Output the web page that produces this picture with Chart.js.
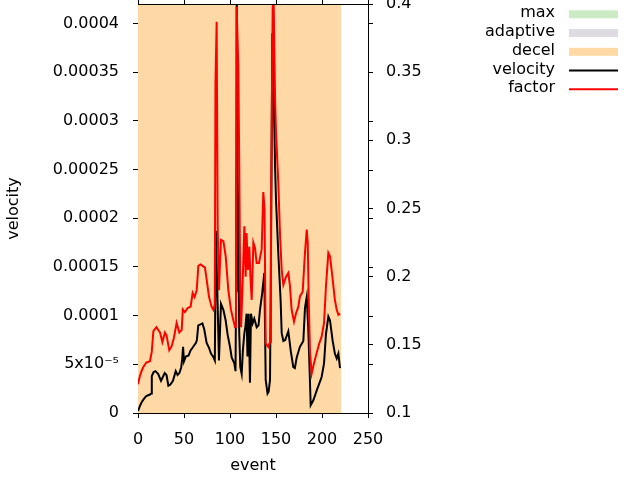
<!DOCTYPE html>
<html>
<head>
<meta charset="utf-8">
<script src="https://cdn.jsdelivr.net/npm/chart.js@4/dist/chart.umd.min.js"></script>
<style>
  html, body { margin: 0; padding: 0; background: #fff; }
  #wrap { width: 640px; height: 480px; }
</style>
</head>
<body>
<div id="wrap"><canvas id="chart" width="640" height="480"></canvas></div>
<script>
// velocity (left axis)
const velocityEvents = [0, 2, 4, 6, 9, 13, 14.5, 15, 17, 19, 22, 25, 27, 29, 31, 33, 35, 38, 41, 43, 45, 47, 48, 49, 50,
  52, 55, 57, 60, 63, 64, 65.5, 68, 70, 72, 74.6, 77.2, 79.3, 81.9, 83.5, 84.6, 86.6, 88, 90.2, 92.8, 95.3, 97.5,
  100, 101.8, 104.7, 106, 106.6, 107.3, 108.3, 109, 110, 111.2, 112.7, 114, 115.6, 116.8, 118, 119, 120.3, 121.7,
  122.8, 124.6, 126.4, 129, 131, 132.6, 135, 137.3, 138.8, 140.8, 142, 143.5, 144.9, 146, 147.5, 149, 150, 152.5,
  155, 156.2, 158, 160, 163.4, 166, 168.8, 170.5, 172.5, 176, 179.7, 181.5, 183.4, 185, 186.5, 187.7, 190.6, 194.2,
  199.6, 202.2, 204.3, 206.9, 208.7, 211.6, 214, 216, 217.8, 219.6];
const velocity = [0.2e-5, 0.7e-5, 1.1e-5, 1.4e-5, 1.75e-5, 1.9e-5, 2.0e-5, 3.8e-5, 4.2e-5, 4.3e-5, 4.0e-5, 3.3e-5,
  3.7e-5, 4.1e-5, 3.9e-5, 2.8e-5, 2.9e-5, 3.3e-5, 4.3e-5, 3.9e-5, 4.1e-5, 4.7e-5, 5.5e-5, 6.8e-5, 5.3e-5,
  5.8e-5, 5.9e-5, 6.4e-5, 6.8e-5, 7.2e-5, 7.5e-5, 9.0e-5, 9.1e-5, 9.2e-5, 8.6e-5, 7.2e-5, 6.7e-5, 6.1e-5, 5.75e-5,
  5.4e-5, 18.7e-5, 11.0e-5, 5.4e-5, 11.2e-5, 10.6e-5, 9.5e-5, 8.0e-5,
  6.8e-5, 5.7e-5, 5.1e-5, 4.3e-5, 12.5e-5, 43e-5, 24e-5, 19.8e-5, 8.4e-5, 4.7e-5, 4.0e-5, 6.4e-5, 8.2e-5, 8.9e-5,
  10.2e-5, 5.8e-5, 10.2e-5, 3.1e-5,
  10.2e-5, 9.2e-5, 9.7e-5, 8.8e-5, 9.0e-5, 10.6e-5, 12.3e-5, 14.4e-5, 3.4e-5, 2.0e-5, 2.2e-5, 3.4e-5, 21e-5, 39e-5,
  33e-5, 25.3e-5, 21.9e-5, 16.4e-5,
  11.6e-5, 8.2e-5, 7.4e-5, 7.5e-5, 8.4e-5, 6.4e-5, 4.7e-5, 4.6e-5, 5.7e-5, 6.8e-5, 7.4e-5, 10.8e-5, 11.9e-5, 8.8e-5,
  4.5e-5, 0.8e-5, 1.3e-5, 2.3e-5,
  3.7e-5, 5.1e-5, 8.1e-5, 9.9e-5, 9.5e-5, 7.4e-5, 6.1e-5, 5.6e-5, 6.1e-5, 4.6e-5];

// factor (right axis)
const factorEvents = [0, 2, 4, 6, 9, 13, 15, 16.7, 20, 24, 26.5, 29.3, 31, 34, 36.6, 39, 42, 44.9, 47.5, 48.7, 51,
  54, 57.2, 59.4, 61.5, 63.8, 65.6, 68, 72.8, 74.6, 77.2, 80, 81.9, 83.5, 84.2, 85.5, 86.6, 88, 90.2, 92.8, 95.3,
  98.2, 101, 103.6, 105.5, 106.5, 107.2, 109, 110.1, 110.9, 112, 113.5, 115.6, 117, 118, 119.5, 121, 122.2, 123.6,
  125.4, 127.2, 129, 131.5, 134.4, 136.2, 137.5, 138.8, 141.6, 143.5, 144.5, 146.4, 147.5, 149, 150, 152.5, 154.3,
  156.2, 158, 160.9, 163.4, 165.2, 167, 169.6, 171.7, 174.3, 176, 179, 181.5, 183.4, 184.5, 185.5, 187, 188.8,
  191.3, 194.2, 197, 199.6, 202.2, 204.3, 206.9, 208.7, 211.6, 214, 216, 217.8, 219.6];
const factor = [0.121, 0.127, 0.131, 0.134, 0.137, 0.138, 0.145, 0.160, 0.163, 0.159, 0.152, 0.159, 0.157, 0.146,
  0.149, 0.155, 0.166, 0.159, 0.161, 0.176, 0.174,
  0.177, 0.178, 0.188, 0.185, 0.190, 0.208, 0.209, 0.2066, 0.198, 0.185, 0.178, 0.1757, 0.18, 0.342, 0.387, 0.237,
  0.19, 0.227, 0.226, 0.215,
  0.19, 0.176, 0.168, 0.163, 0.25, 0.398, 0.355, 0.281, 0.207, 0.163, 0.19, 0.237, 0.2, 0.232, 0.205, 0.222, 0.2,
  0.183,
  0.225, 0.221, 0.21, 0.21, 0.22, 0.262, 0.25, 0.151, 0.1485, 0.152, 0.25, 0.398, 0.400, 0.33, 0.306, 0.269, 0.232,
  0.205, 0.194, 0.200, 0.2027, 0.193, 0.1757, 0.167, 0.173, 0.178, 0.1855, 0.189, 0.2175, 0.2346, 0.225, 0.1855,
  0.144, 0.129,
  0.1365, 0.144, 0.151, 0.156, 0.166, 0.193, 0.2175, 0.215, 0.198, 0.183, 0.1757, 0.172, 0.173];

// decel region (event range)
const decelRange = [0, 221];

// axes
const eventTicks = [0, 50, 100, 150, 200, 250];
const velocityTicks = [0, 0.00005, 0.0001, 0.00015, 0.0002, 0.00025, 0.0003, 0.00035, 0.0004];
const velocityTickLabels = ['0', '5x10\u207B\u2075', '0.0001', '0.00015', '0.0002', '0.00025', '0.0003', '0.00035', '0.0004'];
const factorTicks = [0.1, 0.15, 0.2, 0.25, 0.3, 0.35, 0.4];
const factorTickLabels = ['0.1', '0.15', '0.2', '0.25', '0.3', '0.35', '0.4'];
const velocityMax = 0.00042;

const FONT = 'DejaVu Sans';
Chart.defaults.font.family = FONT;
Chart.defaults.font.size = 16;
Chart.defaults.color = '#000';

function pairs(xs, ys) {
  return xs.map((x, i) => ({ x: x, y: ys[i] }));
}

// gnuplot-like key: text right-aligned, sample on the right
const keyPlugin = {
  id: 'key',
  afterDraw(chart) {
    const ctx = chart.ctx;
    ctx.save();
    ctx.font = '16px "' + FONT + '"';
    ctx.textAlign = 'right';
    ctx.textBaseline = 'middle';
    chart.data.datasets.forEach((ds, i) => {
      const y = 14.3 + i * 18.75;
      ctx.fillStyle = '#000';
      ctx.fillText(ds.label, 555, y - 1);
      if (ds.fill) {
        ctx.fillStyle = ds.backgroundColor;
        ctx.fillRect(569, y - 4, 49, 8);
      } else {
        ctx.strokeStyle = ds.borderColor;
        ctx.lineWidth = 2;
        ctx.beginPath();
        ctx.moveTo(569, y);
        ctx.lineTo(618, y);
        ctx.stroke();
      }
    });
    ctx.restore();
  }
};

// top border and mirrored ticks
const framePlugin = {
  id: 'frame',
  afterDraw(chart) {
    const ctx = chart.ctx;
    const a = chart.chartArea;
    const xs = chart.scales.x, ys = chart.scales.y;
    ctx.save();
    ctx.strokeStyle = '#000';
    ctx.lineWidth = 1;
    ctx.beginPath();
    ctx.moveTo(a.left, a.top + 0.5);
    ctx.lineTo(a.right, a.top + 0.5);
    xs.ticks.forEach(t => {
      const px = Math.round(xs.getPixelForValue(t.value)) + 0.5;
      ctx.moveTo(px, a.top);
      ctx.lineTo(px, a.top - 5);
    });
    ys.ticks.forEach(t => {
      const py = Math.round(ys.getPixelForValue(t.value)) + 0.5;
      ctx.moveTo(a.right, py);
      ctx.lineTo(a.right + 5, py);
    });
    ctx.stroke();
    ctx.restore();
  }
};

const axisGrid = { drawOnChartArea: false, drawTicks: true, tickLength: 5, color: '#000', tickColor: '#000', lineWidth: 1 };
const axisBorder = { display: true, color: '#000', width: 1 };

function noEdgePadding(s) {
  s.paddingTop = 0;
  s.paddingBottom = 0;
  s.paddingLeft = 0;
  s.paddingRight = 0;
}

new Chart(document.getElementById('chart'), {
  type: 'line',
  data: {
    datasets: [
      { label: 'max', data: [], fill: 'start', backgroundColor: '#ccebc5', borderWidth: 0, pointRadius: 0, yAxisID: 'y', order: 4 },
      { label: 'adaptive', data: [], fill: 'start', backgroundColor: '#dfdbe3', borderWidth: 0, pointRadius: 0, yAxisID: 'y', order: 3 },
      { label: 'decel', data: decelRange.map(x => ({ x: x, y: velocityMax })), fill: 'start', backgroundColor: '#fed9a6',
        borderWidth: 0, pointRadius: 0, yAxisID: 'y', order: 2 },
      { label: 'velocity', data: pairs(velocityEvents, velocity), fill: false, borderColor: '#000', borderWidth: 2,
        pointRadius: 0, tension: 0, yAxisID: 'y', order: 1 },
      { label: 'factor', data: pairs(factorEvents, factor), fill: false, borderColor: '#ff0000', borderWidth: 2,
        pointRadius: 0, tension: 0, yAxisID: 'y2', order: 0 }
    ]
  },
  options: {
    responsive: false,
    animation: false,
    events: [],
    layout: { padding: { top: 4, left: 0, right: 0, bottom: 0 } },
    plugins: { legend: { display: false }, tooltip: { enabled: false } },
    scales: {
      x: {
        type: 'linear', min: 0, max: 250,
        afterFit: s => { s.height = 67; noEdgePadding(s); },
        afterBuildTicks: s => { s.ticks = eventTicks.map(v => ({ value: v })); },
        ticks: { padding: 12, maxRotation: 0, autoSkip: false },
        grid: axisGrid, border: axisBorder,
        title: { display: true, text: 'event', padding: { top: 0, bottom: 5 } }
      },
      y: {
        type: 'linear', position: 'left', min: 0, max: velocityMax,
        afterFit: s => { s.width = 138; noEdgePadding(s); },
        afterBuildTicks: s => { s.ticks = velocityTicks.map(v => ({ value: v })); },
        ticks: { padding: 14, autoSkip: false, callback: (v, i) => velocityTickLabels[i] },
        grid: axisGrid, border: axisBorder,
        title: { display: true, text: 'velocity', padding: { top: 4, bottom: 0 } }
      },
      y2: {
        type: 'linear', position: 'right', min: 0.1, max: 0.4,
        afterFit: s => { s.width = 272; noEdgePadding(s); },
        afterBuildTicks: s => { s.ticks = factorTicks.map(v => ({ value: v })); },
        ticks: { padding: 13, autoSkip: false, callback: (v, i) => factorTickLabels[i] },
        grid: axisGrid, border: axisBorder
      }
    }
  },
  plugins: [framePlugin, keyPlugin]
});
</script>
</body>
</html>
